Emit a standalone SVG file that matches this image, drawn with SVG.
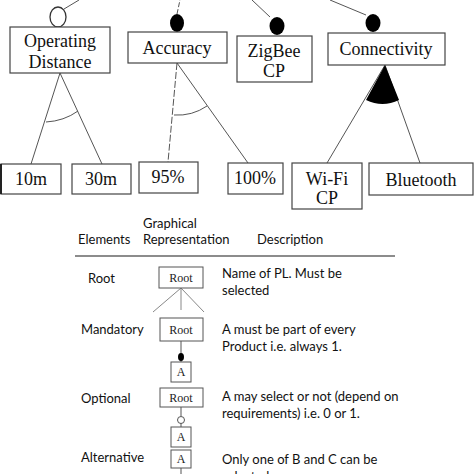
<svg xmlns="http://www.w3.org/2000/svg" width="474" height="474" viewBox="0 0 474 474">
<style>
.box{fill:#fff;stroke:#444;stroke-width:1.2}
.sbox{fill:#fff;stroke:#555;stroke-width:1}
.ser{font-family:"Liberation Serif","Times New Roman",serif;font-size:18px;fill:#111;text-anchor:middle}
.sser{font-family:"Liberation Serif","Times New Roman",serif;font-size:12px;fill:#222;text-anchor:middle}
.sans{font-family:Lato,"Liberation Sans",sans-serif;font-size:13px;fill:#111}
.ln{stroke:#555;stroke-width:1;fill:none}
.lg{stroke:#888;stroke-width:1;fill:none}
</style>
<rect width="474" height="474" fill="#fff"/>
<g id="connectors">
<line class="ln" x1="64" y1="9" x2="79" y2="0"/>
<line class="ln" x1="177" y1="14" x2="180" y2="0" stroke-dasharray="5 2"/>
<line class="ln" x1="270" y1="17" x2="252" y2="0"/>
<line class="ln" x1="366" y1="15" x2="330" y2="0"/>
<line class="ln" x1="60" y1="73" x2="31" y2="164"/>
<line class="ln" x1="60" y1="73" x2="102" y2="164"/>
<path class="ln" d="M46,122 Q64,121 78,111"/>
<line class="ln" x1="177" y1="63" x2="168" y2="162" stroke-dasharray="7 2"/>
<line class="ln" x1="177" y1="63" x2="248" y2="163"/>
<path class="ln" d="M174,115 A52,52 0 0 0 207,106"/>
<line class="ln" x1="385" y1="65" x2="327" y2="163"/>
<line class="ln" x1="385" y1="65" x2="420" y2="163"/>
<path d="M385,65 L366,100 A38,38 0 0 0 399,100 Z" fill="#000"/>
<line x1="75" y1="256" x2="395" y2="256" stroke="#666" stroke-width="1.5"/>
<line class="lg" x1="181" y1="288" x2="153" y2="312"/>
<line class="lg" x1="181" y1="288" x2="181" y2="310"/>
<line class="lg" x1="181" y1="288" x2="204" y2="312"/>
<line class="ln" x1="181" y1="341" x2="181" y2="362"/>
<ellipse cx="181" cy="357" rx="3" ry="4" fill="#000"/>
<line class="ln" x1="181" y1="407" x2="181" y2="416"/>
<circle cx="181" cy="420" r="3.5" fill="#fff" stroke="#555" stroke-width="1"/>
<line class="ln" x1="181" y1="423.5" x2="181" y2="427"/>
<line class="ln" x1="181" y1="468" x2="181" y2="474"/>
</g>
<g id="operating-distance">
<ellipse cx="58" cy="17" rx="8" ry="10" fill="#fff" stroke="#333" stroke-width="1.3"/>
<rect class="box" x="10" y="27" width="100" height="46"/>
<text class="ser" x="60" y="47">Operating</text>
<text class="ser" x="60" y="68">Distance</text>
</g>
<g id="accuracy">
<ellipse cx="177" cy="23" rx="7" ry="9" fill="#000"/>
<rect class="box" x="128" y="32" width="99" height="31"/>
<text class="ser" x="177" y="54">Accuracy</text>
</g>
<g id="zigbee">
<ellipse cx="277" cy="26" rx="7.5" ry="9" fill="#000"/>
<rect class="box" x="237" y="36" width="75" height="46"/>
<text class="ser" x="274" y="57">ZigBee</text>
<text class="ser" x="274" y="77">CP</text>
</g>
<g id="connectivity">
<ellipse cx="373" cy="23" rx="7.5" ry="9" fill="#000"/>
<rect class="box" x="328" y="33" width="117" height="32"/>
<text class="ser" x="386" y="55">Connectivity</text>
</g>
<g id="n10m">
<rect class="box" x="1" y="164" width="60" height="30"/>
<line x1="1" y1="164" x2="1" y2="194" stroke="#222" stroke-width="2"/>
<text class="ser" x="31" y="185">10m</text>
</g>
<g id="n30m">
<rect class="box" x="72" y="164" width="59" height="30"/>
<text class="ser" x="101" y="185">30m</text>
</g>
<g id="n95">
<rect class="box" x="139" y="162" width="59" height="31"/>
<text class="ser" x="168" y="183">95%</text>
</g>
<g id="n100">
<rect class="box" x="228" y="163" width="55" height="31"/>
<text class="ser" x="255" y="184">100%</text>
</g>
<g id="wifi">
<rect class="box" x="292" y="163" width="70" height="46"/>
<text class="ser" x="327" y="185">Wi-Fi</text>
<text class="ser" x="327" y="204">CP</text>
</g>
<g id="bluetooth">
<rect class="box" x="369" y="163" width="104" height="32"/>
<text class="ser" x="421" y="186">Bluetooth</text>
</g>
<g id="legend">
<text class="sans" x="143" y="228">Graphical</text>
<text class="sans" x="78" y="244">Elements</text>
<text class="sans" x="143" y="244">Representation</text>
<text class="sans" x="257" y="244">Description</text>
<text class="sans" x="88" y="283">Root</text>
<g id="legend-root">
<rect class="sbox" x="159" y="267" width="44" height="21"/>
<text class="sser" x="181" y="282">Root</text>
</g>
<text class="sans" x="222" y="278">Name of PL. Must be</text>
<text class="sans" x="222" y="295">selected</text>
<text class="sans" x="81" y="334">Mandatory</text>
<g id="legend-mandatory-root">
<rect class="sbox" x="160" y="318" width="43" height="23"/>
<text class="sser" x="181" y="334">Root</text>
</g>
<g id="legend-mandatory-a">
<rect class="sbox" x="171" y="362" width="20" height="20"/>
<text class="sser" x="181" y="376">A</text>
</g>
<text class="sans" x="222" y="334">A must be part of every</text>
<text class="sans" x="222" y="351">Product i.e. always 1.</text>
<text class="sans" x="81" y="403">Optional</text>
<g id="legend-optional-root">
<rect class="sbox" x="160" y="388" width="43" height="19"/>
<text class="sser" x="181" y="402">Root</text>
</g>
<g id="legend-optional-a">
<rect class="sbox" x="171" y="427" width="20" height="20"/>
<text class="sser" x="181" y="441">A</text>
</g>
<text class="sans" x="222" y="401">A may select or not (depend on</text>
<text class="sans" x="222" y="418">requirements) i.e. 0 or 1.</text>
<text class="sans" x="81" y="462">Alternative</text>
<g id="legend-alternative-a">
<rect class="sbox" x="171" y="450" width="20" height="18"/>
<text class="sser" x="181" y="463">A</text>
</g>
<text class="sans" x="222" y="464">Only one of B and C can be</text>
<text class="sans" x="222" y="481">selected</text>
</g>
</svg>
